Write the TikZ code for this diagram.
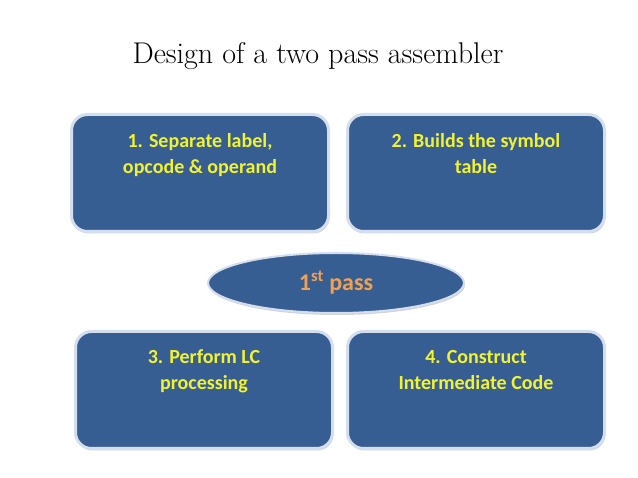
\documentclass[tikz,border=0pt]{standalone}
\usepackage{fontspec}
\newfontfamily\carl{Carlito}
\usetikzlibrary{shapes.geometric,shadows}
\definecolor{boxblue}{HTML}{375E92}
\definecolor{txtyel}{HTML}{F2F22E}
\definecolor{txtorg}{HTML}{F0A050}
\definecolor{rimc}{HTML}{D4DEEE}
\begin{document}
\begin{tikzpicture}[x=1pt,y=-1pt,
  box/.style={draw=rimc,line width=3pt,fill=boxblue,rounded corners=16pt,
    minimum width=257pt,minimum height=117pt,align=center,
    text=txtyel,font=\carl\bfseries\fontsize{20}{26}\selectfont,
    drop shadow={shadow xshift=1pt,shadow yshift=-2pt,opacity=0.35}},
  oval/.style={ellipse,draw=rimc,line width=2pt,fill=boxblue,
    minimum width=256pt,minimum height=60pt,text=txtorg,
    font=\carl\bfseries\fontsize{24}{28}\selectfont,
    drop shadow={shadow xshift=1pt,shadow yshift=-2pt,opacity=0.35}}]
\useasboundingbox[fill=white] (0,0) rectangle (638,478);
\node (title) at (318,56) {\fontsize{30}{36}\selectfont Design of a two pass assembler};
\node[box] (b1) at (200,173) {1. Separate label,\\opcode \& operand\\[14pt]};
\node[box] (b2) at (476,173) {2. Builds the symbol\\table\\[14pt]};
\node[box] (b3) at (204,390) {3. Perform LC\\processing\\[14pt]};
\node[box] (b4) at (476,390) {4. Construct\\Intermediate Code\\[14pt]};
\node[oval] (p) at (336,283) {1\textsuperscript{st} pass};
\end{tikzpicture}
\end{document}
